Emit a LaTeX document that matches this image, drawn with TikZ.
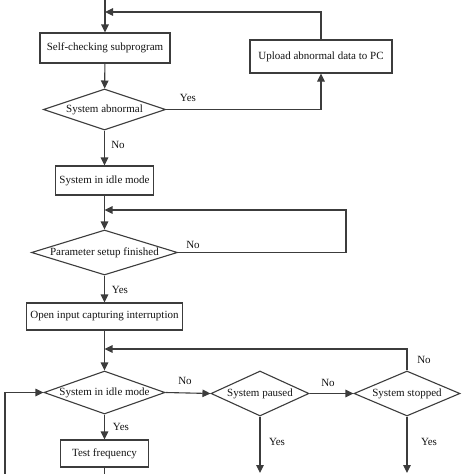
\documentclass[tikz,border=0pt]{standalone}
\usepackage{fontspec}
\setmainfont{Liberation Serif}
\usepackage{tikz}
\usetikzlibrary{arrows.meta,shapes.geometric,positioning}
\definecolor{fcline}{RGB}{60,60,60}
\definecolor{fctext}{RGB}{20,20,20}
\tikzstyle{arrow} = [line width=1.1pt,color=fcline,-{Triangle[length=8pt,width=7.5pt]}]
\tikzstyle{line} = [line width=1.1pt,color=fcline]
\tikzstyle{process} = [draw=fcline, line width=1.1pt, rectangle, inner sep=0pt, text=fctext]
\tikzstyle{decision} = [draw=fcline, line width=1.1pt, diamond, inner sep=0pt, text=fctext]
\tikzstyle{lbl} = [text=fctext, inner sep=0pt]
\newcommand{\dtext}[1]{\makebox[0pt]{#1}}

\begin{document}
\begin{tikzpicture}[x=1pt, y=-1pt, font=\fontsize{11}{13}\selectfont]
\useasboundingbox[fill=white] (0,0) rectangle (474,474);

% Self-check loop
\node[process, minimum width=130pt, minimum height=30pt] (self) at (105,48) {Self-checking subprogram};
\node[process, minimum width=142pt, minimum height=33pt] (upload) at (321,56.5) {Upload abnormal data to PC};
\node[decision, minimum width=122pt, minimum height=41pt] (abn) at (104.5,109.5) {\dtext{System abnormal}};
\coordinate (top) at (105,0);
\coordinate (j1) at (105,12);
\draw[arrow] (top) -- (self.north);
\draw[arrow] (upload.north) |- (j1);
\draw[arrow] (self) -- (abn);
\draw[arrow] (abn.east) -| (upload.south);
\node[lbl] (yes1) at (188,98) {Yes};

% Idle mode and parameter setup
\node[process, minimum width=98pt, minimum height=29pt] (idle1) at (104.5,180.5) {System in idle mode};
\node[decision, minimum width=146pt, minimum height=45pt] (param) at (104.5,252.5) {\dtext{Parameter setup finished}};
\node[process, minimum width=156pt, minimum height=27pt] (open) at (104.5,316.5) {Open input capturing interruption};
\draw[arrow] (abn) -- (idle1);
\node[lbl] (no1) at (118,145) {No};
\coordinate (j2) at (104.5,210);
\coordinate (c2) at (346,210);
\draw[arrow] (idle1) -- (param);
\draw[arrow] (param.east) -| (c2) -- (j2);
\node[lbl] (no2) at (193,245) {No};
\draw[arrow] (param) -- (open);
\node[lbl] (yes2) at (120,290) {Yes};

% Main loop
\node[decision, minimum width=121pt, minimum height=43pt] (idle2) at (104.5,392.5) {\dtext{System in idle mode}};
\node[decision, minimum width=98pt, minimum height=45pt] (paused) at (260,393.5) {\dtext{System paused}};
\node[decision, minimum width=106pt, minimum height=45pt] (stopped) at (407,393.5) {\dtext{System stopped}};
\node[process, minimum width=88pt, minimum height=27pt] (test) at (104.5,453.5) {Test frequency};
\coordinate (j3) at (104.5,349);
\coordinate (lb) at (5,474);
\coordinate (tb) at (104.5,474);
\coordinate (pb) at (260,473);
\coordinate (sb) at (407,473);
\draw[arrow] (open) -- (idle2);
\draw[arrow] (stopped.north) |- (j3);
\node[lbl] (no3) at (424,360) {No};
\draw[arrow] (idle2.east) -- (paused.west);
\node[lbl] (no4) at (185,381) {No};
\draw[arrow] (paused.east) -- (stopped.west);
\node[lbl] (no5) at (328,383) {No};
\draw[arrow] (idle2) -- (test);
\node[lbl] (yes3) at (121,427) {Yes};
\draw[line] (test) -- (tb);
\draw[arrow] (lb) |- (idle2.west);
\draw[arrow] (paused) -- (pb);
\node[lbl] (yes4) at (277,442) {Yes};
\draw[arrow] (stopped) -- (sb);
\node[lbl] (yes5) at (429,442) {Yes};
\end{tikzpicture}
\end{document}
